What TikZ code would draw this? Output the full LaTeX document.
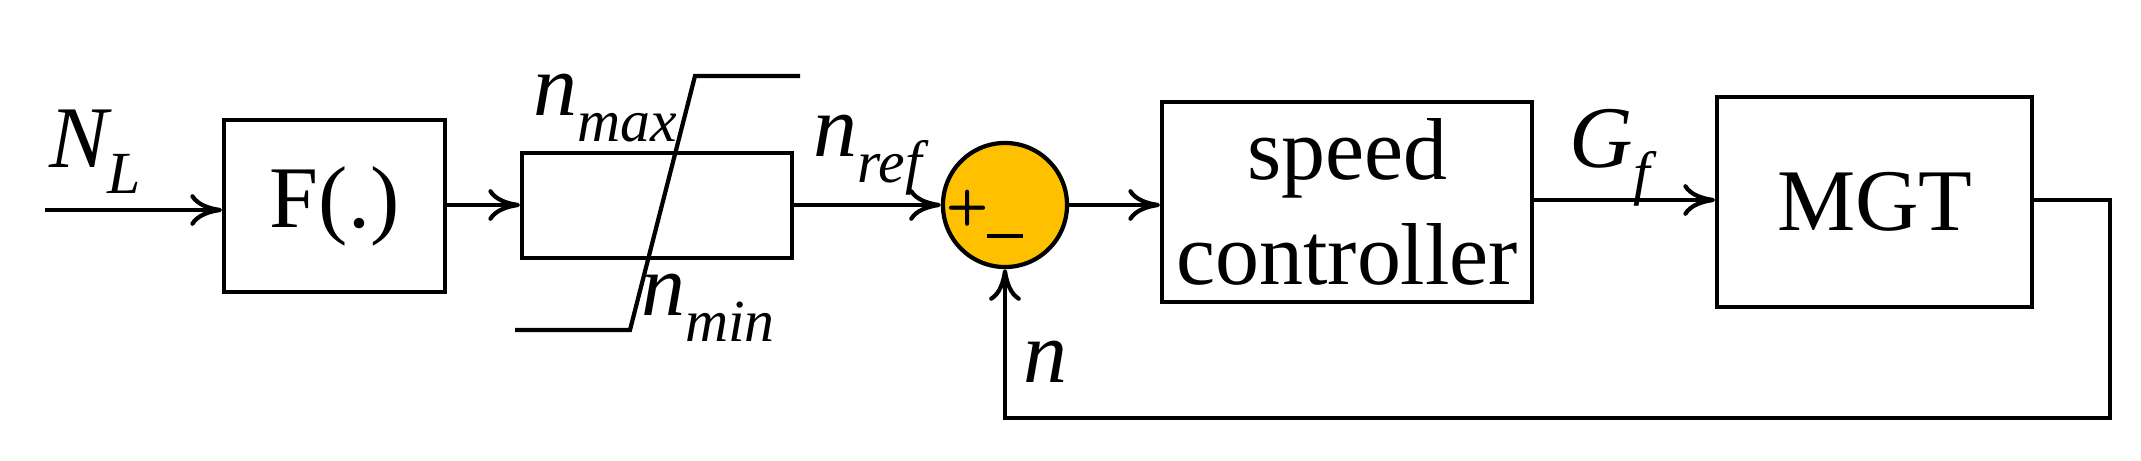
\documentclass[tikz,border=0pt]{standalone}
\usepackage{fontspec}
\setmainfont{Liberation Serif}
\usetikzlibrary{arrows.meta}
\newcommand{\lsub}[2]{#1\raisebox{-0.3em}{\fontsize{17}{19}\selectfont #2}}
\begin{document}
\begin{tikzpicture}[x=0.01cm,y=-0.01cm,
  blk/.style={draw,line width=1.2pt,inner sep=0pt},
  conn/.style={line width=1.2pt,-{To[length=9pt,width=9pt]}},
  lbl/.style={font=\fontsize{25}{28}\selectfont\itshape,inner sep=0pt}]
\useasboundingbox (0,0) rectangle (2141,461);
\node[blk,minimum width=2.21cm,minimum height=1.72cm,anchor=north west,font=\fontsize{25}{28}\selectfont] (F) at (222,118) {F(.)};
\node[blk,minimum width=2.70cm,minimum height=1.05cm,anchor=north west] (L) at (520,151) {};
\draw[line width=1.2pt] (800,76) -- (695,76) -- (630,330) -- (515,330);
\node[lbl] (nmax) at (605,108) {\lsub{n}{max}};
\node[lbl] (nmin) at (708,308) {\lsub{n}{min}};
\node[circle,draw,line width=1.2pt,fill={rgb,255:red,255;green,192;blue,0},minimum size=1.24cm] (S) at (1005,205) {};
\node[font=\sffamily\bfseries\fontsize{14}{16}\selectfont] (plus) at (968,208) {+};
\node[font=\sffamily\bfseries\fontsize{14}{16}\selectfont] (minus) at (1005,236) {\rule{10pt}{1.3pt}};
\node[blk,minimum width=3.70cm,minimum height=2.00cm,anchor=north west,align=center,font=\fontsize{25}{30}\selectfont] (C) at (1160,100) {speed\\controller};
\node[blk,minimum width=3.15cm,minimum height=2.10cm,anchor=north west,font=\fontsize{25}{28}\selectfont] (M) at (1715,95) {MGT};
\coordinate (in) at (45,210);
\draw[conn] (in) -- (F.west |- in);
\draw[conn] (F.east |- 0,205) -- (L.west |- 0,205);
\draw[conn] (L.east |- 0,205) -- (S.west);
\draw[conn] (S.east) -- (C.west |- S.east);
\draw[conn] (C.east |- 0,200) -- (M.west |- 0,200);
\coordinate (c1) at (2110,200);
\coordinate (c2) at (2110,418);
\coordinate (c3) at (1005,418);
\draw[conn] (M.east |- c1) -- (c1) -- (c2) -- (c3) -- (S.south);
\node[lbl] (NL) at (95,152) {\lsub{N}{L}};
\node[lbl] (nref) at (868,155) {\lsub{n}{ref}};
\node[lbl] (Gf) at (1610,158) {\lsub{G}{f}};
\node[lbl] (n) at (1045,362) {n};
\end{tikzpicture}
\end{document}
